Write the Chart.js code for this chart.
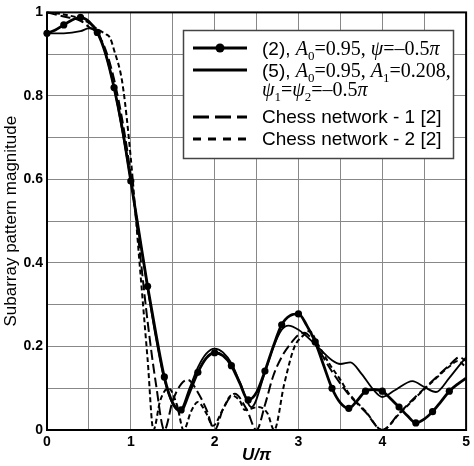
<!DOCTYPE html>
<html>
<head>
<meta charset="UTF-8" />
<title>Subarray pattern magnitude</title>
<script src="https://cdn.jsdelivr.net/npm/chart.js@4.4.2/dist/chart.umd.min.js"></script>
<style>
    body { margin: 0; background: #fff; }
    #wrap { position: relative; width: 474px; height: 466px; }
    .leg {
        position: absolute;
        left: 262px;
        font: 19px "Liberation Sans", Arial, sans-serif;
        line-height: 20px;
        white-space: nowrap;
        color: #000;
    }
    .tm { font-family: "Liberation Serif", "Times New Roman", serif; font-size: 20px; }
    .leg sub { font-size: 13px; vertical-align: -5px; line-height: 0; }
</style>
</head>
<body>
<div id="wrap">
    <canvas id="chart" width="474" height="466"></canvas>
    <div class="leg" style="top:38px">(2), <span class="tm"><i>A</i><sub>0</sub>=0.95, <i>ψ</i>=–0.5<i>π</i></span></div>
    <div class="leg" style="top:60px">(5), <span class="tm"><i>A</i><sub>0</sub>=0.95, <i>A</i><sub>1</sub>=0.208,</span></div>
    <div class="leg" style="top:79px"><span class="tm"><i>ψ</i><sub>1</sub>=<i>ψ</i><sub>2</sub>=–0.5<i>π</i></span></div>
    <div class="leg" style="top:107px">Chess network - 1 [2]</div>
    <div class="leg" style="top:129px">Chess network - 2 [2]</div>
</div>

<script>
    // --- data (U/pi, magnitude) ---
    var eq2U = [0, 0.1, 0.2, 0.3, 0.4, 0.5, 0.6, 0.7, 0.8, 0.9, 1.0, 1.1, 1.2, 1.3, 1.4, 1.5, 1.6, 1.7, 1.8, 1.9,
        2.0, 2.1, 2.2, 2.3, 2.4, 2.5, 2.6, 2.7, 2.8, 2.9, 3.0, 3.1, 3.2, 3.3, 3.4, 3.5, 3.6, 3.7, 3.8, 3.9,
        4.0, 4.1, 4.2, 4.3, 4.4, 4.5, 4.6, 4.7, 4.8, 4.9, 5.0];
    var eq2Mag = [0.95, 0.958, 0.97, 0.982, 0.988, 0.978, 0.952, 0.9, 0.82, 0.72, 0.596, 0.47, 0.344, 0.23, 0.127, 0.065, 0.048, 0.09, 0.138, 0.172,
        0.185, 0.178, 0.154, 0.112, 0.072, 0.09, 0.141, 0.2, 0.252, 0.274, 0.278, 0.25, 0.211, 0.155, 0.1, 0.065, 0.052, 0.07, 0.093, 0.097,
        0.093, 0.075, 0.055, 0.034, 0.017, 0.026, 0.044, 0.068, 0.093, 0.11, 0.124];

    var eq5U = [0, 0.2, 0.4, 0.5, 0.6, 0.7, 0.8, 0.9, 1.0, 1.1, 1.2, 1.3, 1.4, 1.5, 1.58, 1.7, 1.8, 1.9, 2.0, 2.1,
        2.2, 2.3, 2.44, 2.6, 2.7, 2.8, 2.88, 3.0, 3.2, 3.4, 3.5, 3.62, 3.75, 3.9, 4.0, 4.15, 4.36, 4.5, 4.64, 4.8,
        4.9, 5.0];
    var eq5Mag = [0.95, 0.95, 0.955, 0.962, 0.955, 0.9, 0.82, 0.715, 0.598, 0.468, 0.34, 0.22, 0.12, 0.062, 0.045, 0.1, 0.15, 0.183, 0.195, 0.186,
        0.16, 0.115, 0.055, 0.138, 0.198, 0.24, 0.25, 0.24, 0.205, 0.167, 0.158, 0.162, 0.135, 0.095, 0.079, 0.095, 0.117, 0.103, 0.091, 0.125,
        0.15, 0.174];

    var chess1U = [0, 0.2, 0.4, 0.5, 0.6, 0.7, 0.8, 0.9, 1.0, 1.1, 1.2, 1.3, 1.4, 1.5, 1.6, 1.68, 1.8, 1.9, 2.0, 2.1,
        2.24, 2.38, 2.5, 2.6, 2.7, 2.8, 2.9, 3.0, 3.07, 3.2, 3.4, 3.6, 3.8, 4.0, 4.2, 4.4, 4.6, 4.8, 4.92, 5.0];
    var chess1Mag = [1.0, 0.99, 0.98, 0.965, 0.95, 0.91, 0.84, 0.74, 0.61, 0.44, 0.26, 0.11, 0.0, 0.07, 0.11, 0.12, 0.09, 0.05, 0.0, 0.05,
        0.087, 0.05, 0.0, 0.06, 0.13, 0.175, 0.205, 0.228, 0.233, 0.205, 0.14, 0.085, 0.043, 0.0, 0.04, 0.08, 0.118, 0.155, 0.174, 0.165];

    var chess2U = [0, 0.2, 0.4, 0.5, 0.6, 0.7, 0.75, 0.8, 0.9, 1.0, 1.1, 1.2, 1.27, 1.35, 1.45, 1.55, 1.63, 1.72, 1.8, 1.9,
        1.98, 2.1, 2.2, 2.3, 2.36, 2.52, 2.63, 2.71, 2.83, 2.95, 3.05, 3.13, 3.23, 3.37, 3.5, 3.6, 3.8, 4.0, 4.2, 4.4,
        4.6, 4.8, 4.9, 5.0];
    var chess2Mag = [1.0, 0.995, 0.985, 0.975, 0.96, 0.948, 0.94, 0.91, 0.83, 0.65, 0.41, 0.17, 0.0, 0.07, 0.1, 0.06, 0.0, 0.045, 0.067, 0.04,
        0.01, 0.05, 0.083, 0.07, 0.048, 0.055, 0.04, 0.0, 0.11, 0.198, 0.225, 0.237, 0.206, 0.158, 0.12, 0.088, 0.045, 0.0, 0.038, 0.078,
        0.116, 0.152, 0.165, 0.15];

    var xLabels = ["0", "1", "2", "3", "4", "5"];
    var yLabels = ["0", "0.2", "0.4", "0.6", "0.8", "1"];

    function pts(xs, ys) {
        return xs.map(function (x, i) {
            return { x: x, y: ys[i] };
        });
    }

    // frame, white legend box and line samples; legend text is html on top
    var legendBox = {
        id: "legendBox",
        afterDraw: function (chart) {
            var ctx = chart.ctx;
            var area = chart.chartArea;
            ctx.save();
            ctx.strokeStyle = "#000";
            ctx.lineWidth = 2;
            ctx.strokeRect(area.left, area.top, area.right - area.left, area.bottom - area.top);

            ctx.fillStyle = "#fff";
            ctx.fillRect(183, 30, 271, 129);
            ctx.strokeStyle = "#444";
            ctx.lineWidth = 1.5;
            ctx.strokeRect(183.5, 30.5, 270, 128);

            var rowsY = [48, 70, 117, 139];
            var dashes = [[], [], [16, 6], [8, 7]];
            ctx.strokeStyle = "#000";
            ctx.lineWidth = 3;
            for (var i = 0; i < rowsY.length; i++) {
                ctx.setLineDash(dashes[i]);
                ctx.beginPath();
                ctx.moveTo(193, rowsY[i]);
                ctx.lineTo(247, rowsY[i]);
                ctx.stroke();
            }
            ctx.setLineDash([]);
            ctx.fillStyle = "#000";
            ctx.beginPath();
            ctx.arc(220, rowsY[0], 4.5, 0, Math.PI * 2);
            ctx.fill();
            ctx.restore();
        },
    };

    var tickFont = { family: "'Liberation Sans', Arial, sans-serif", size: 14, weight: "bold" };

    new Chart(document.getElementById("chart"), {
        type: "line",
        data: {
            datasets: [
                {
                    label: "(2), A0=0.95, ψ=–0.5π",
                    data: pts(eq2U, eq2Mag),
                    borderColor: "#000",
                    backgroundColor: "#000",
                    borderWidth: 2.8,
                    pointRadius: function (c) {
                        return c.dataIndex % 2 === 0 && c.dataIndex < 50 ? 3.6 : 0;
                    },
                    pointBorderWidth: 0,
                    cubicInterpolationMode: "monotone",
                },
                {
                    label: "(5), A0=0.95, A1=0.208, ψ1=ψ2=–0.5π",
                    data: pts(eq5U, eq5Mag),
                    borderColor: "#000",
                    borderWidth: 1.8,
                    pointRadius: 0,
                    cubicInterpolationMode: "monotone",
                },
                {
                    label: "Chess network - 1 [2]",
                    data: pts(chess1U, chess1Mag),
                    borderColor: "#000",
                    borderWidth: 2,
                    borderDash: [10, 4],
                    pointRadius: 0,
                    cubicInterpolationMode: "monotone",
                },
                {
                    label: "Chess network - 2 [2]",
                    data: pts(chess2U, chess2Mag),
                    borderColor: "#000",
                    borderWidth: 2,
                    borderDash: [5, 3],
                    pointRadius: 0,
                    cubicInterpolationMode: "monotone",
                },
            ],
        },
        plugins: [legendBox],
        options: {
            responsive: false,
            animation: false,
            clip: 5,
            layout: { padding: { top: 9, right: 7, left: 0, bottom: 0 } },
            plugins: {
                legend: { display: false },
                tooltip: { enabled: false },
            },
            scales: {
                x: {
                    type: "linear",
                    min: 0,
                    max: 5,
                    afterFit: function (scale) {
                        scale.height = 36;
                    },
                    grid: { color: "#888", lineWidth: 1, drawTicks: false },
                    border: { display: false },
                    ticks: {
                        stepSize: 0.5,
                        autoSkip: false,
                        maxRotation: 0,
                        padding: 4,
                        color: "#000",
                        font: tickFont,
                        callback: function (v) {
                            return Number.isInteger(v) ? xLabels[v] : "";
                        },
                    },
                    title: {
                        display: true,
                        text: "U/π",
                        color: "#000",
                        padding: { top: 2, bottom: 0 },
                        font: { family: "'Liberation Sans', Arial, sans-serif", size: 17, weight: "bold", style: "italic" },
                    },
                },
                y: {
                    min: 0,
                    max: 1,
                    afterFit: function (scale) {
                        scale.width = 47;
                    },
                    grid: { color: "#888", lineWidth: 1, drawTicks: false },
                    border: { display: false },
                    ticks: {
                        stepSize: 0.1,
                        autoSkip: false,
                        padding: 4,
                        color: "#000",
                        font: tickFont,
                        callback: function (v) {
                            var k = Math.round(v * 5);
                            return Math.abs(v * 5 - k) < 1e-6 ? yLabels[k] : "";
                        },
                    },
                    title: {
                        display: true,
                        text: "Subarray pattern magnitude",
                        color: "#000",
                        padding: { top: 1, bottom: 0 },
                        font: { family: "'Liberation Sans', Arial, sans-serif", size: 17 },
                    },
                },
            },
        },
    });
</script>
</body>
</html>
